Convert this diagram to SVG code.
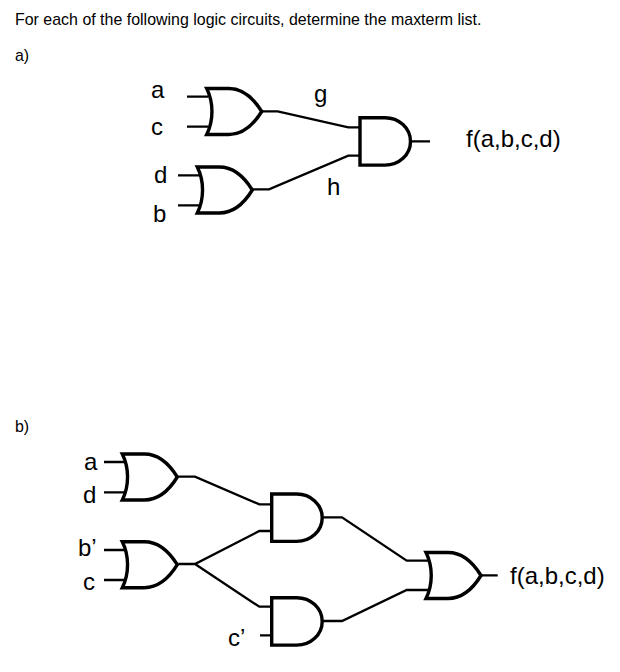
<svg xmlns="http://www.w3.org/2000/svg" width="620" height="672" viewBox="0 0 620 672">
<defs>
<style>
text{font-family:"Liberation Sans",Arial,sans-serif;fill:#000}
.t{font-size:15.96px}
.l{font-size:24px}
.g{fill:none;stroke:#000;stroke-width:3.4;stroke-linejoin:miter}
.w{fill:none;stroke:#000;stroke-width:2.3}
</style>
<path id="or" d="M0 0H22C37 0 47 10 55 23C47 36 37 46 22 46H0C7 32 7 14 0 0Z"/>
<path id="and" d="M0 0H25C39 0 50.500 10.500 50.500 23.700C50.500 37 39 47.400 25 47.400H0Z"/>
</defs>
<rect width="620" height="672" fill="#fff"/>
<g id="labels-page">
<text class="t" x="15" y="25">For each of the following logic circuits, determine the maxterm list.</text>
<text class="t" x="15" y="61">a)</text>
<text class="t" x="15" y="432">b)</text>
</g>
<g id="connectors" class="w">
<path d="M187 96.700H208M187 126.700H208M178 175.300H199M178 205.300H199"/>
<path d="M261.700 111.300H277.700L348.300 127.300H360M252.700 189.300H269L348.300 155.700H360M410.700 141.300H430"/>
<path d="M104 462H124M104 492.300H124M104 550H124M104 580H124"/>
<path d="M178.300 476.700H195L259.300 504.300H272M178.300 564H195L259.300 531H272M195 564L259.300 606.700H272M260 635.300H272"/>
<path d="M322.300 517.300H342L406.700 560.700H428M322.300 621H342L406.700 590H428M481.700 575.300H497.700"/>
</g>
<g id="or-ac"><use href="#or" class="g" x="206.700" y="88.500"/><text class="l" x="151" y="98">a</text><text class="l" x="151" y="135">c</text></g>
<g id="or-db"><use href="#or" class="g" x="197.300" y="167"/><text class="l" x="154" y="183">d</text><text class="l" x="153" y="222">b</text></g>
<g id="and-a"><use href="#and" class="g" x="360" y="117.700"/></g>
<g id="or-ad"><use href="#or" class="g" x="122.300" y="454"/><text class="l" x="84" y="470">a</text><text class="l" x="83" y="503">d</text></g>
<g id="or-bc"><use href="#or" class="g" x="122.300" y="541.700"/><text class="l" x="78" y="556">b’</text><text class="l" x="83" y="590">c</text></g>
<g id="and-b1"><use href="#and" class="g" x="271.700" y="494"/></g>
<g id="and-b2"><use href="#and" class="g" x="271.700" y="597.700"/><text class="l" x="228" y="646">c’</text></g>
<g id="or-b3"><use href="#or" class="g" x="426" y="552.500"/></g>
<g id="labels-wires">
<text class="l" x="314" y="102">g</text>
<text class="l" x="327" y="195">h</text>
<text class="l" x="466" y="147">f(a,b,c,d)</text>
<text class="l" x="510" y="584">f(a,b,c,d)</text>
</g>
</svg>
